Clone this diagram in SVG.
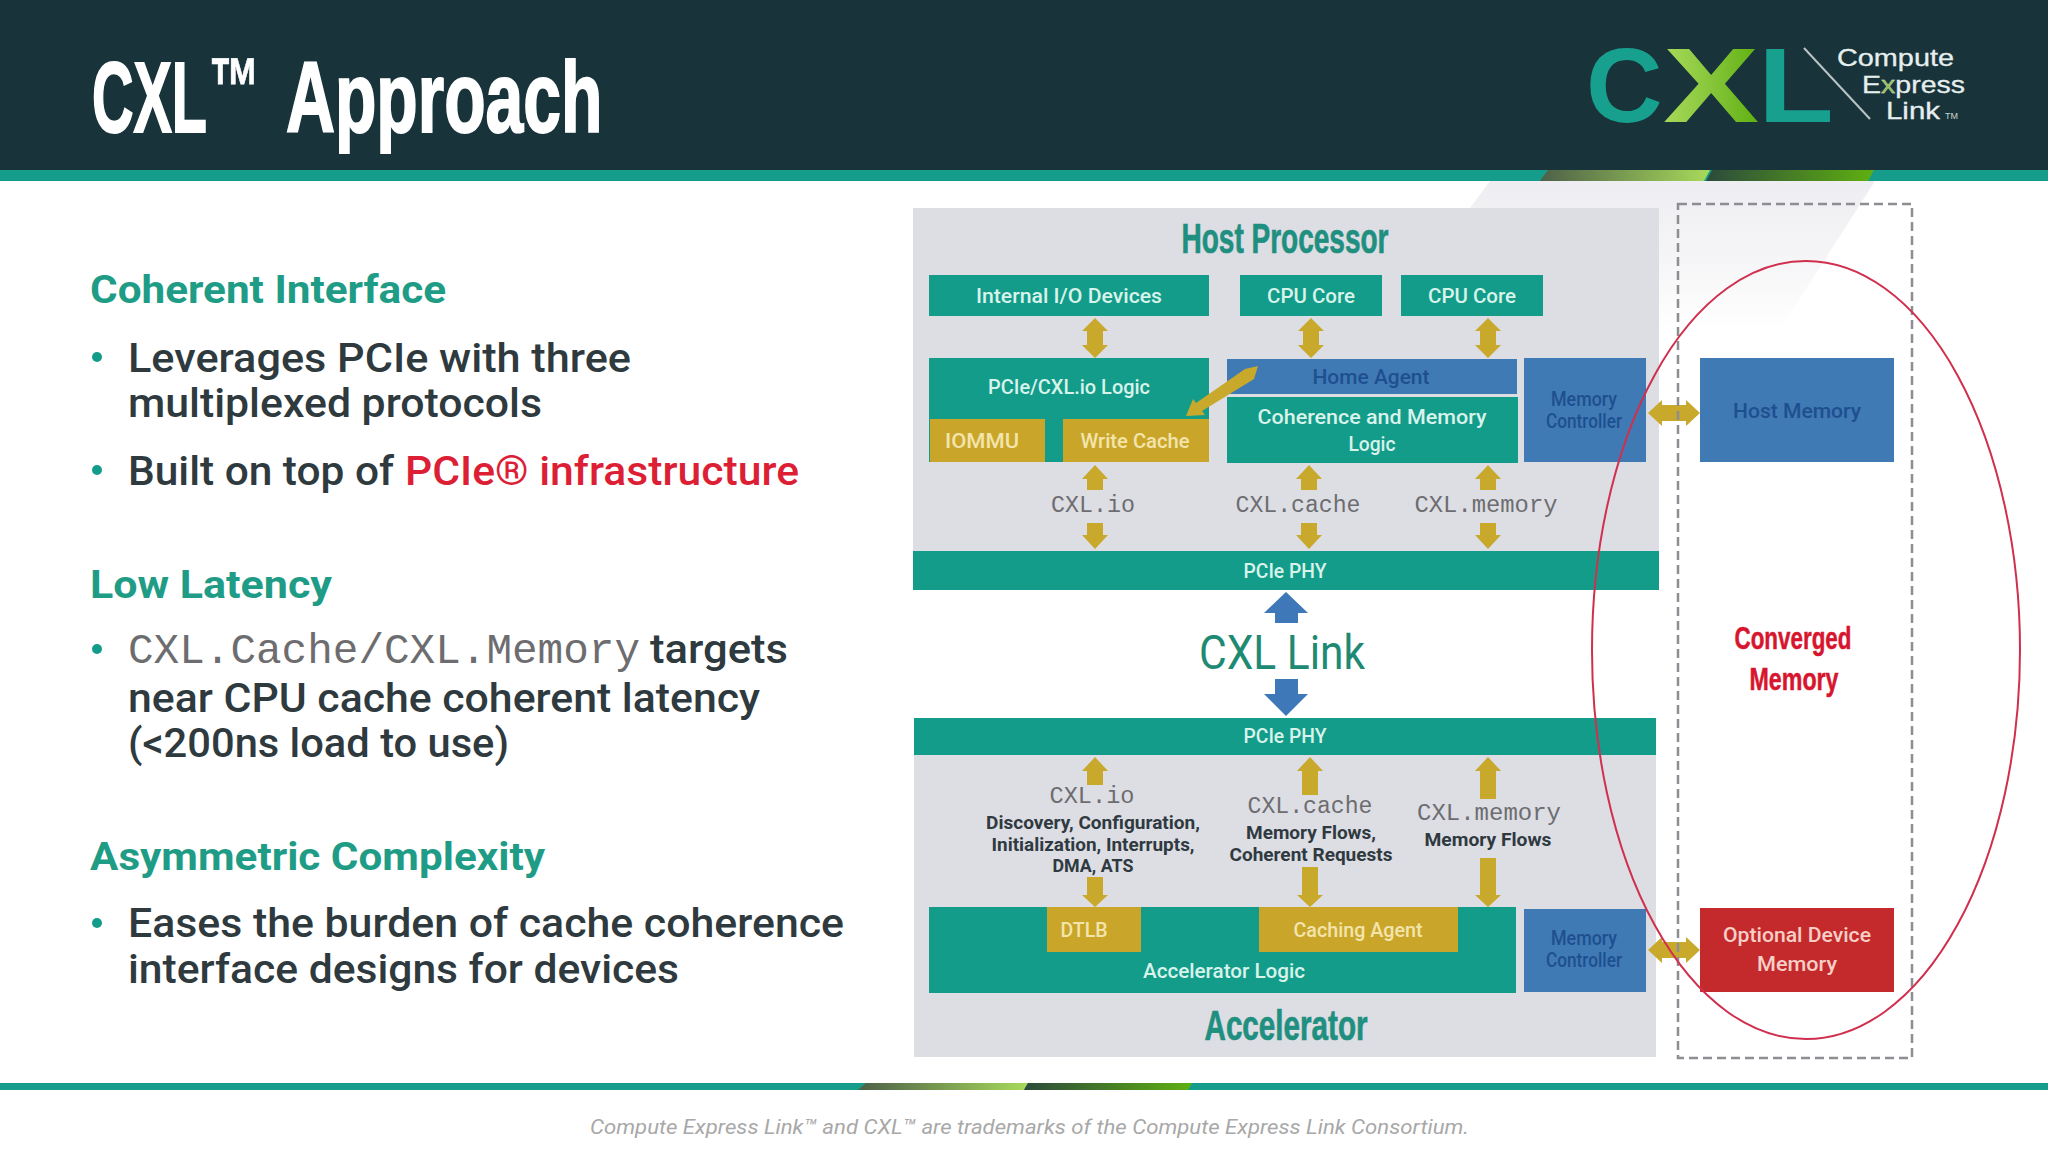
<svg xmlns="http://www.w3.org/2000/svg" width="2048" height="1152" viewBox="0 0 2048 1152">
<defs>
<linearGradient id="g1" x1="0" x2="1" y1="0" y2="0"><stop offset="0" stop-color="#4d6048"/><stop offset="1" stop-color="#a8da5a"/></linearGradient>
<linearGradient id="g2" x1="0" x2="1" y1="0" y2="0"><stop offset="0" stop-color="#2c4a3c"/><stop offset="1" stop-color="#5fb010"/></linearGradient>
<linearGradient id="wedge" x1="0" x2="0" y1="0" y2="1"><stop offset="0" stop-color="#eeeef2"/><stop offset="0.5" stop-color="#f5f5f7"/><stop offset="1" stop-color="#ffffff"/></linearGradient>
<linearGradient id="xg" x1="0" x2="1" y1="0" y2="0"><stop offset="0" stop-color="#a8da5a"/><stop offset="0.5" stop-color="#86c63a"/><stop offset="1" stop-color="#5fb010"/></linearGradient>
</defs>
<style>
.t{font-family:"Roboto","Liberation Sans",sans-serif;font-weight:500;font-size:40px;fill:#2f3a3f}
.h{font-family:"Roboto","Liberation Sans",sans-serif;font-weight:700;font-size:39px;fill:#1f9c86}
.red{fill:#dc1f35}
.mono{font-family:"Liberation Mono",monospace;fill:#6d6d70}
.m{font-family:"Liberation Mono",monospace;font-size:23px;fill:#6d6d70;text-anchor:middle}
.l{font-family:"Roboto","Liberation Sans",sans-serif;font-weight:500;font-size:21px;fill:#d8f3ea;text-anchor:middle}
.y{fill:#f3e4ac}
.b{fill:#1e4f8f}
.d{font-family:"Roboto","Liberation Sans",sans-serif;font-weight:700;font-size:19px;fill:#2f3a40;text-anchor:middle}
.big{font-family:"Liberation Sans",sans-serif;font-weight:700;font-size:42px;fill:#1f8f80;stroke:#1f8f80;stroke-width:.7px;text-anchor:middle}
.ttl{font-family:"Liberation Sans",sans-serif;font-weight:700;fill:#ffffff;stroke:#ffffff;stroke-width:2px}
.lg{font-family:"Liberation Sans",sans-serif;font-weight:700;font-size:106px}
.lt{font-family:"Liberation Sans",sans-serif;font-size:23.4px;fill:#e6eeee;stroke:#e6eeee;stroke-width:.3px}
.teal{fill:#139c8a}
.gold{fill:#c9a62a}
.blue{fill:#3f7ab5}
.panel{fill:#dddde4}
.a{fill:#c9a92c}
.ba{fill:#3f78b8}
</style>
<rect width="2048" height="1152" fill="#ffffff"/>
<polygon points="1490,181 1875,181 1780,330 1659,330 1659,208 1470,208" fill="url(#wedge)"/>
<rect width="2048" height="170" fill="#18343a"/>
<rect y="170" width="2048" height="11" fill="#159c8a"/>
<polygon points="1540,181 1548,170 1710,170 1704,181" fill="url(#g1)"/>
<polygon points="1706,181 1712,170 1874,170 1868,181" fill="url(#g2)"/>
<rect y="1083" width="2048" height="7" fill="#159c8a"/>
<polygon points="858,1090 866,1083 1028,1083 1024,1090" fill="url(#g1)"/>
<polygon points="1024,1090 1028,1083 1192,1083 1188,1090" fill="url(#g2)"/>

<g id="title">
<text class="ttl" transform="translate(92,132) scale(.575,1)" font-size="100">CXL</text>
<text class="ttl" transform="translate(209,115) scale(.62,1)" font-size="82" style="stroke-width:.8px">™</text>
<text class="ttl" transform="translate(286,132) scale(.678,1)" font-size="100">Approach</text>
</g>

<g id="logo">
<text class="lg" x="1586" y="122" fill="#17a08e">C</text>
<text class="lg" transform="translate(1663,122) scale(1.36,1)" fill="url(#xg)">X</text>
<text class="lg" transform="translate(1758,122) scale(1.17,1)" fill="#17a08e">L</text>
<line x1="1804" y1="48" x2="1870" y2="119" stroke="#b9c4c4" stroke-width="2"/>
<text class="lt" x="1837" y="66" textLength="117" lengthAdjust="spacingAndGlyphs">Compute</text>
<text class="lt" x="1862" y="93" textLength="103" lengthAdjust="spacingAndGlyphs">E<tspan fill="#8fc04a">x</tspan>press</text>
<text class="lt" x="1886" y="119" textLength="54" lengthAdjust="spacingAndGlyphs">Link</text>
<text x="1945" y="119" font-family="Liberation Sans, sans-serif" font-size="9" fill="#c8d4d4">TM</text>
</g>

<g id="bullets">
<text class="h" x="90" y="303" textLength="356" lengthAdjust="spacingAndGlyphs">Coherent Interface</text>
<circle class="teal" cx="97" cy="357" r="5"/>
<text class="t" x="128" y="372" textLength="503" lengthAdjust="spacingAndGlyphs">Leverages PCIe with three</text>
<text class="t" x="128" y="417" textLength="414" lengthAdjust="spacingAndGlyphs">multiplexed protocols</text>
<circle class="teal" cx="97" cy="470" r="5"/>
<text class="t" x="128" y="485" textLength="266" lengthAdjust="spacingAndGlyphs">Built on top of</text>
<text class="t red" x="405" y="485" textLength="394" lengthAdjust="spacingAndGlyphs">PCIe® infrastructure</text>

<text class="h" x="90" y="598" textLength="242" lengthAdjust="spacingAndGlyphs">Low Latency</text>
<circle class="teal" cx="97" cy="649" r="5"/>
<text class="mono" x="128" y="663" font-size="42.7" textLength="512" lengthAdjust="spacingAndGlyphs">CXL.Cache/CXL.Memory</text>
<text class="t" x="650" y="663" textLength="138" lengthAdjust="spacingAndGlyphs">targets</text>
<text class="t" x="128" y="712" textLength="632" lengthAdjust="spacingAndGlyphs">near CPU cache coherent latency</text>
<text class="t" x="128" y="757" textLength="381" lengthAdjust="spacingAndGlyphs">(&lt;200ns load to use)</text>

<text class="h" x="90" y="870" textLength="455" lengthAdjust="spacingAndGlyphs">Asymmetric Complexity</text>
<circle class="teal" cx="97" cy="923" r="5"/>
<text class="t" x="128" y="937" textLength="716" lengthAdjust="spacingAndGlyphs">Eases the burden of cache coherence</text>
<text class="t" x="128" y="983" textLength="551" lengthAdjust="spacingAndGlyphs">interface designs for devices</text>
</g>

<g id="host-panel">
<rect class="panel" x="913" y="208" width="746" height="345"/>
<text class="big" x="1285" y="253" textLength="207" lengthAdjust="spacingAndGlyphs">Host Processor</text>
</g>
<g id="accelerator-panel">
<rect class="panel" x="914" y="752" width="742" height="305"/>
<text class="big" x="1286" y="1040" textLength="163" lengthAdjust="spacingAndGlyphs">Accelerator</text>
</g>

<g id="internal-io"><rect class="teal" x="929" y="275" width="280" height="41"/><text class="l" x="1069" y="303" textLength="186" lengthAdjust="spacingAndGlyphs">Internal I/O Devices</text></g>
<g id="cpu-core-1"><rect class="teal" x="1240" y="275" width="142" height="41"/><text class="l" x="1311" y="303" textLength="88" lengthAdjust="spacingAndGlyphs">CPU Core</text></g>
<g id="cpu-core-2"><rect class="teal" x="1401" y="275" width="142" height="41"/><text class="l" x="1472" y="303" textLength="88" lengthAdjust="spacingAndGlyphs">CPU Core</text></g>
<g id="pcie-logic"><rect class="teal" x="929" y="358" width="280" height="104"/><text class="l" x="1069" y="394" textLength="162" lengthAdjust="spacingAndGlyphs">PCIe/CXL.io Logic</text></g>
<g id="iommu"><rect class="gold" x="930" y="419" width="115" height="43"/><text class="l y" x="982" y="448" textLength="74" lengthAdjust="spacingAndGlyphs">IOMMU</text></g>
<g id="write-cache"><rect class="gold" x="1063" y="419" width="146" height="43"/><text class="l y" x="1135" y="448" textLength="109" lengthAdjust="spacingAndGlyphs">Write Cache</text></g>
<g id="home-agent"><rect class="blue" x="1227" y="359" width="290" height="35"/><text class="l b" x="1371" y="384" textLength="117" lengthAdjust="spacingAndGlyphs">Home Agent</text></g>
<g id="coherence"><rect class="teal" x="1227" y="397" width="291" height="66"/><text class="l" x="1372" y="424" textLength="229" lengthAdjust="spacingAndGlyphs">Coherence and Memory</text><text class="l" x="1372" y="451" textLength="47" lengthAdjust="spacingAndGlyphs">Logic</text></g>
<g id="memory-controller-host"><rect class="blue" x="1524" y="358" width="122" height="104"/><text class="l b" x="1584" y="406" font-size="18" textLength="66" lengthAdjust="spacingAndGlyphs">Memory</text><text class="l b" x="1584" y="428" font-size="18" textLength="76" lengthAdjust="spacingAndGlyphs">Controller</text></g>
<g id="pcie-phy-host"><rect class="teal" x="913" y="551" width="746" height="39"/><text class="l" x="1285" y="578" textLength="83" lengthAdjust="spacingAndGlyphs">PCIe PHY</text></g>
<g id="pcie-phy-accel"><rect class="teal" x="914" y="718" width="742" height="37"/><text class="l" x="1285" y="743" textLength="83" lengthAdjust="spacingAndGlyphs">PCIe PHY</text></g>
<g id="accelerator-logic"><rect class="teal" x="929" y="907" width="587" height="86"/><text class="l" x="1224" y="978" textLength="162" lengthAdjust="spacingAndGlyphs">Accelerator Logic</text></g>
<g id="dtlb"><rect class="gold" x="1047" y="907" width="94" height="45"/><text class="l y" x="1084" y="937" textLength="47" lengthAdjust="spacingAndGlyphs">DTLB</text></g>
<g id="caching-agent"><rect class="gold" x="1259" y="907" width="199" height="45"/><text class="l y" x="1358" y="937" textLength="129" lengthAdjust="spacingAndGlyphs">Caching Agent</text></g>
<g id="memory-controller-accel"><rect class="blue" x="1524" y="909" width="122" height="83"/><text class="l b" x="1584" y="945" font-size="18" textLength="66" lengthAdjust="spacingAndGlyphs">Memory</text><text class="l b" x="1584" y="967" font-size="18" textLength="76" lengthAdjust="spacingAndGlyphs">Controller</text></g>
<g id="host-memory"><rect class="blue" x="1700" y="358" width="194" height="104"/><text class="l b" x="1797" y="418" textLength="128" lengthAdjust="spacingAndGlyphs">Host Memory</text></g>
<g id="device-memory"><rect x="1700" y="908" width="194" height="84" fill="#c42a2c"/><text class="l" x="1797" y="942" style="fill:#f6cfc6" textLength="148" lengthAdjust="spacingAndGlyphs">Optional Device</text><text class="l" x="1797" y="971" style="fill:#f6cfc6" textLength="80" lengthAdjust="spacingAndGlyphs">Memory</text></g>

<g id="labels">
<text class="m" x="1093" y="512" textLength="84" lengthAdjust="spacingAndGlyphs">CXL.io</text>
<text class="m" x="1298" y="512" textLength="125" lengthAdjust="spacingAndGlyphs">CXL.cache</text>
<text class="m" x="1486" y="512" textLength="143" lengthAdjust="spacingAndGlyphs">CXL.memory</text>
<text x="1282" y="669" font-family="Roboto, Liberation Sans, sans-serif" font-weight="400" font-size="48" fill="#1f8a74" text-anchor="middle" textLength="166" lengthAdjust="spacingAndGlyphs">CXL Link</text>
<text class="m" x="1092" y="803" textLength="85" lengthAdjust="spacingAndGlyphs">CXL.io</text>
<text class="m" x="1310" y="813" textLength="125" lengthAdjust="spacingAndGlyphs">CXL.cache</text>
<text class="m" x="1489" y="820" textLength="144" lengthAdjust="spacingAndGlyphs">CXL.memory</text>
<text class="d" x="1093" y="829" textLength="214" lengthAdjust="spacingAndGlyphs">Discovery, Configuration,</text>
<text class="d" x="1093" y="851" textLength="203" lengthAdjust="spacingAndGlyphs">Initialization, Interrupts,</text>
<text class="d" x="1093" y="872" textLength="81" lengthAdjust="spacingAndGlyphs">DMA, ATS</text>
<text class="d" x="1311" y="839" textLength="130" lengthAdjust="spacingAndGlyphs">Memory Flows,</text>
<text class="d" x="1311" y="861" textLength="163" lengthAdjust="spacingAndGlyphs">Coherent Requests</text>
<text class="d" x="1488" y="846" textLength="127" lengthAdjust="spacingAndGlyphs">Memory Flows</text>
<text x="1793" y="649" font-family="Liberation Sans, sans-serif" font-weight="700" font-size="32" fill="#d8152e" stroke="#d8152e" stroke-width=".5" text-anchor="middle" textLength="117" lengthAdjust="spacingAndGlyphs">Converged</text>
<text x="1794" y="690" font-family="Liberation Sans, sans-serif" font-weight="700" font-size="32" fill="#d8152e" stroke="#d8152e" stroke-width=".5" text-anchor="middle" textLength="89" lengthAdjust="spacingAndGlyphs">Memory</text>
<text x="590" y="1134" font-family="Roboto, Liberation Sans, sans-serif" font-style="italic" font-size="21" fill="#a8a8a8" textLength="879" lengthAdjust="spacingAndGlyphs">Compute Express Link™ and CXL™ are trademarks of the Compute Express Link Consortium.</text>
</g>

<g id="connectors">
<polygon class="a" points="1095,318 1108,331 1103,331 1103,345 1108,345 1095,358 1082,345 1087,345 1087,331 1082,331"/>
<polygon class="a" points="1311,318 1324,331 1319,331 1319,345 1324,345 1311,358 1298,345 1303,345 1303,331 1298,331"/>
<polygon class="a" points="1488,318 1501,331 1496,331 1496,345 1501,345 1488,358 1475,345 1480,345 1480,331 1475,331"/>
<polygon class="a" points="1258,366 1254,379 1202,411 1205,415 1186,416 1193,399 1196,403 1245,369"/>
<polygon class="a" points="1095,465 1108,479 1103,479 1103,490 1087,490 1087,479 1082,479"/>
<polygon class="a" points="1309,465 1322,479 1317,479 1317,490 1301,490 1301,479 1296,479"/>
<polygon class="a" points="1488,465 1501,479 1496,479 1496,490 1480,490 1480,479 1475,479"/>
<polygon class="a" points="1095,549 1108,535 1103,535 1103,523 1087,523 1087,535 1082,535"/>
<polygon class="a" points="1309,549 1322,535 1317,535 1317,523 1301,523 1301,535 1296,535"/>
<polygon class="a" points="1488,549 1501,535 1496,535 1496,523 1480,523 1480,535 1475,535"/>
<polygon class="a" points="1095,757 1108,771 1103,771 1103,785 1087,785 1087,771 1082,771"/>
<polygon class="a" points="1310,757 1323,771 1318,771 1318,795 1302,795 1302,771 1297,771"/>
<polygon class="a" points="1488,757 1501,771 1496,771 1496,799 1480,799 1480,771 1475,771"/>
<polygon class="a" points="1095,907 1108,895 1103,895 1103,877 1087,877 1087,895 1082,895"/>
<polygon class="a" points="1310,907 1323,895 1318,895 1318,867 1302,867 1302,895 1297,895"/>
<polygon class="a" points="1488,907 1501,895 1496,895 1496,858 1480,858 1480,895 1475,895"/>
<polygon class="a" points="1648,413 1662,400 1662,405 1686,405 1686,400 1700,413 1686,426 1686,421 1662,421 1662,426"/>
<polygon class="a" points="1648,950 1662,937 1662,942 1686,942 1686,937 1700,950 1686,963 1686,958 1662,958 1662,963"/>
<polygon class="ba" points="1286,592 1308,613 1298,613 1298,623 1275,623 1275,613 1264,613"/>
<polygon class="ba" points="1286,716 1308,694 1298,694 1298,679 1275,679 1275,694 1264,694"/>
</g>

<rect id="converged-box" x="1678" y="204" width="234" height="854" fill="none" stroke="#8d8d92" stroke-width="2.5" stroke-dasharray="9 5"/>
<ellipse id="converged-ring" cx="1806" cy="650" rx="214" ry="389" fill="none" stroke="#d0304e" stroke-width="2"/>
</svg>
